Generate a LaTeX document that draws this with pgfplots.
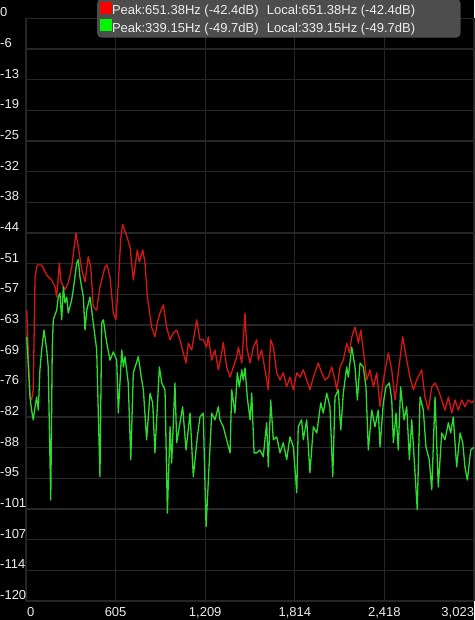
\documentclass[border=0pt]{standalone}
\usepackage{fontspec}
\setmainfont{Liberation Sans}
\usepackage{pgfplots}
\pgfplotsset{compat=1.18}
\definecolor{gridc}{RGB}{38,38,38}
\definecolor{redline}{RGB}{215,22,22}
\definecolor{greenline}{RGB}{44,222,44}
\definecolor{legbg}{RGB}{82,82,82}
\definecolor{labc}{RGB}{238,238,238}
\begin{document}
\begin{tikzpicture}[x=1pt,y=1pt]
\useasboundingbox (0,0) rectangle (474,620);
\fill[black] (0,0) rectangle (474,620);
\begin{axis}[
  at={(26pt,19pt)}, anchor=south west,
  scale only axis, width=448pt, height=582.7pt,
  xmin=0, xmax=3023, ymin=-120, ymax=0,
  axis line style={draw=none},
  major tick length=0pt,
  grid=major,
  major grid style={color=gridc, line width=1.1pt},
  font=\fontsize{13pt}{14pt}\selectfont,
  xtick={0,604.6,1209.2,1813.8,2418.4,3023},
  xticklabels={\makebox[0pt][l]{\hspace{1pt}0},605,{1,209},{1,814},{2,418},\makebox[0pt][r]{3,023}},
  xticklabel style={anchor=base, inner sep=0pt, yshift=-16pt, text=labc},
  ytick={0,-6.31579,-12.63158,-18.94737,-25.26316,-31.57895,-37.89474,-44.21053,-50.52632,-56.84211,-63.15789,-69.47368,-75.78947,-82.10526,-88.42105,-94.73684,-101.05263,-107.36842,-113.68421,-120},
  yticklabels={0,-6,-13,-19,-25,-32,-38,-44,-51,-57,-63,-69,-76,-82,-88,-95,-101,-107,-114,-120},
  yticklabel style={anchor=base west, inner sep=0pt, xshift=-26pt, yshift=1.5pt, text=labc},
  legend style={at={(axis description cs:0.1585,1.0331)}, anchor=north west,
    fill=legbg, fill opacity=0.95, text opacity=1, draw=none, rounded corners=4pt,
    text=labc, inner sep=2.5pt, row sep=1.5pt,
    font=\fontsize{13pt}{14pt}\selectfont,
    nodes={inner sep=0pt, text height=9.5pt, text depth=3pt},
    /tikz/every even column/.append style={column sep=6pt}},
  legend cell align=left,
]
\addplot[color=redline, line width=1.3pt, line join=round,
  legend image code/.code={\fill[red, sharp corners] (2pt,-2pt) rectangle (13pt,9pt);}]
coordinates {(5,-60.1)(27,-78.0)(38,-78.6)(49,-76.5)(61,-53.3)(76,-50.8)(106,-50.8)(140,-52.9)(173,-53.9)(196,-55.3)(207,-57.4)(225,-50.4)(236,-54.3)(263,-55.9)(285,-54.5)(308,-51.4)(337,-44.2)(353,-47.1)(376,-51.8)(398,-54.3)(420,-49.1)(437,-51.2)(454,-59.4)(477,-60.1)(499,-55.3)(533,-51.2)(547,-50.8)(567,-53.3)(589,-60.7)(607,-62.1)(623,-54.5)(639,-45.6)(651,-42.4)(681,-45.0)(702,-47.1)(724,-53.9)(751,-47.7)(765,-50.2)(788,-47.7)(803,-50.4)(819,-57.4)(848,-63.6)(870,-65.6)(886,-62.7)(904,-60.7)(927,-59.0)(949,-63.6)(972,-66.2)(994,-64.8)(1017,-64.2)(1039,-66.2)(1061,-68.9)(1080,-71.0)(1095,-66.9)(1118,-68.3)(1152,-62.1)(1174,-66.2)(1196,-66.2)(1219,-67.7)(1230,-65.6)(1253,-70.4)(1275,-68.3)(1298,-72.4)(1321,-68.9)(1331,-66.7)(1354,-71.8)(1377,-73.9)(1399,-71.8)(1422,-69.7)(1433,-67.7)(1456,-71.0)(1478,-60.7)(1489,-67.7)(1512,-71.0)(1534,-67.7)(1557,-66.2)(1568,-70.4)(1590,-68.3)(1613,-72.4)(1635,-76.5)(1651,-66.2)(1669,-67.7)(1692,-73.0)(1714,-74.5)(1736,-73.0)(1759,-75.9)(1781,-73.9)(1804,-76.5)(1827,-73.0)(1849,-73.9)(1871,-72.4)(1894,-74.5)(1916,-76.5)(1939,-73.9)(1972,-71.0)(1995,-73.0)(2018,-74.5)(2040,-73.9)(2063,-71.8)(2085,-74.5)(2097,-76.5)(2119,-71.8)(2141,-70.4)(2164,-66.9)(2182,-68.9)(2198,-65.6)(2220,-63.6)(2243,-66.9)(2259,-64.2)(2276,-68.3)(2299,-74.5)(2321,-72.4)(2344,-75.9)(2367,-73.0)(2389,-80.0)(2411,-74.5)(2445,-68.9)(2468,-72.4)(2490,-78.6)(2512,-73.0)(2542,-65.6)(2569,-70.4)(2591,-73.9)(2614,-76.5)(2636,-74.5)(2670,-72.4)(2692,-78.0)(2715,-80.7)(2738,-75.9)(2760,-75.1)(2782,-76.5)(2805,-78.6)(2827,-80.7)(2850,-78.0)(2873,-81.3)(2895,-78.6)(2917,-80.7)(2940,-78.6)(2962,-80.0)(2985,-78.6)(3008,-79.2)(3023,-78.6)};
\addlegendentry{\makebox[155pt][l]{Peak:651.38Hz (-42.4dB)}\makebox[191pt][l]{Local:651.38Hz (-42.4dB)}}
\addplot[color=greenline, line width=1.3pt, line join=round,
  legend image code/.code={\fill[green, sharp corners] (2pt,-2pt) rectangle (13pt,9pt);}]
coordinates {(5,-65.6)(27,-78.0)(38,-80.7)(49,-82.7)(61,-80.0)(72,-78.0)(83,-80.7)(94,-72.4)(106,-68.3)(121,-64.2)(140,-68.3)(150,-71.8)(167,-99.2)(177,-68.3)(184,-62.1)(207,-60.1)(218,-57.4)(229,-56.6)(241,-62.1)(252,-55.3)(263,-58.6)(275,-57.4)(285,-60.7)(308,-58.0)(319,-55.9)(342,-50.4)(353,-49.7)(364,-53.3)(387,-57.4)(398,-64.2)(410,-60.1)(432,-57.4)(443,-60.1)(454,-62.7)(477,-68.3)(499,-94.4)(511,-62.7)(522,-62.1)(545,-66.9)(567,-70.4)(589,-68.7)(612,-70.4)(623,-81.3)(646,-68.3)(657,-71.8)(668,-69.7)(690,-75.1)(707,-90.9)(724,-73.0)(758,-69.7)(781,-74.5)(792,-76.5)(814,-86.8)(837,-77.2)(855,-79.2)(870,-89.5)(900,-71.8)(916,-75.1)(938,-76.5)(954,-101.9)(972,-84.1)(983,-91.6)(1005,-75.1)(1017,-87.4)(1039,-83.3)(1057,-80.0)(1080,-88.9)(1107,-81.3)(1129,-94.4)(1156,-86.2)(1174,-82.1)(1196,-81.3)(1215,-104.7)(1253,-81.3)(1275,-82.7)(1298,-80.0)(1309,-82.7)(1331,-84.1)(1354,-86.8)(1377,-89.5)(1388,-76.5)(1410,-81.3)(1426,-73.0)(1439,-75.9)(1456,-72.4)(1466,-74.5)(1478,-72.0)(1493,-78.0)(1512,-82.7)(1523,-77.2)(1539,-89.5)(1557,-89.5)(1579,-88.9)(1601,-90.3)(1624,-83.3)(1635,-92.4)(1651,-78.6)(1669,-86.8)(1692,-86.2)(1714,-89.5)(1736,-87.4)(1759,-90.9)(1781,-86.2)(1804,-88.3)(1827,-97.7)(1837,-84.1)(1860,-82.7)(1871,-86.8)(1894,-82.7)(1916,-93.6)(1939,-84.1)(1962,-85.4)(1989,-79.2)(2006,-81.3)(2029,-77.2)(2051,-80.0)(2070,-94.4)(2085,-78.0)(2107,-76.5)(2124,-84.8)(2141,-77.2)(2164,-71.8)(2175,-73.9)(2198,-67.7)(2220,-71.8)(2236,-78.6)(2254,-71.0)(2276,-71.8)(2294,-75.9)(2310,-88.9)(2333,-80.7)(2355,-84.1)(2377,-80.7)(2389,-88.3)(2411,-79.2)(2429,-75.9)(2452,-75.1)(2468,-78.6)(2479,-87.4)(2497,-81.3)(2512,-88.9)(2528,-75.9)(2551,-82.7)(2569,-80.0)(2587,-90.9)(2603,-82.7)(2625,-93.6)(2640,-101.2)(2659,-78.0)(2681,-80.7)(2699,-88.3)(2721,-90.9)(2738,-97.1)(2760,-78.0)(2782,-96.5)(2805,-85.4)(2827,-86.8)(2850,-83.3)(2866,-85.4)(2883,-82.1)(2906,-92.4)(2929,-85.4)(2947,-87.4)(2962,-92.4)(2978,-95.1)(3001,-88.9)(3023,-88.3)};
\addlegendentry{\makebox[155pt][l]{Peak:339.15Hz (-49.7dB)}\makebox[191pt][l]{Local:339.15Hz (-49.7dB)}}
\end{axis}
\end{tikzpicture}
\end{document}
